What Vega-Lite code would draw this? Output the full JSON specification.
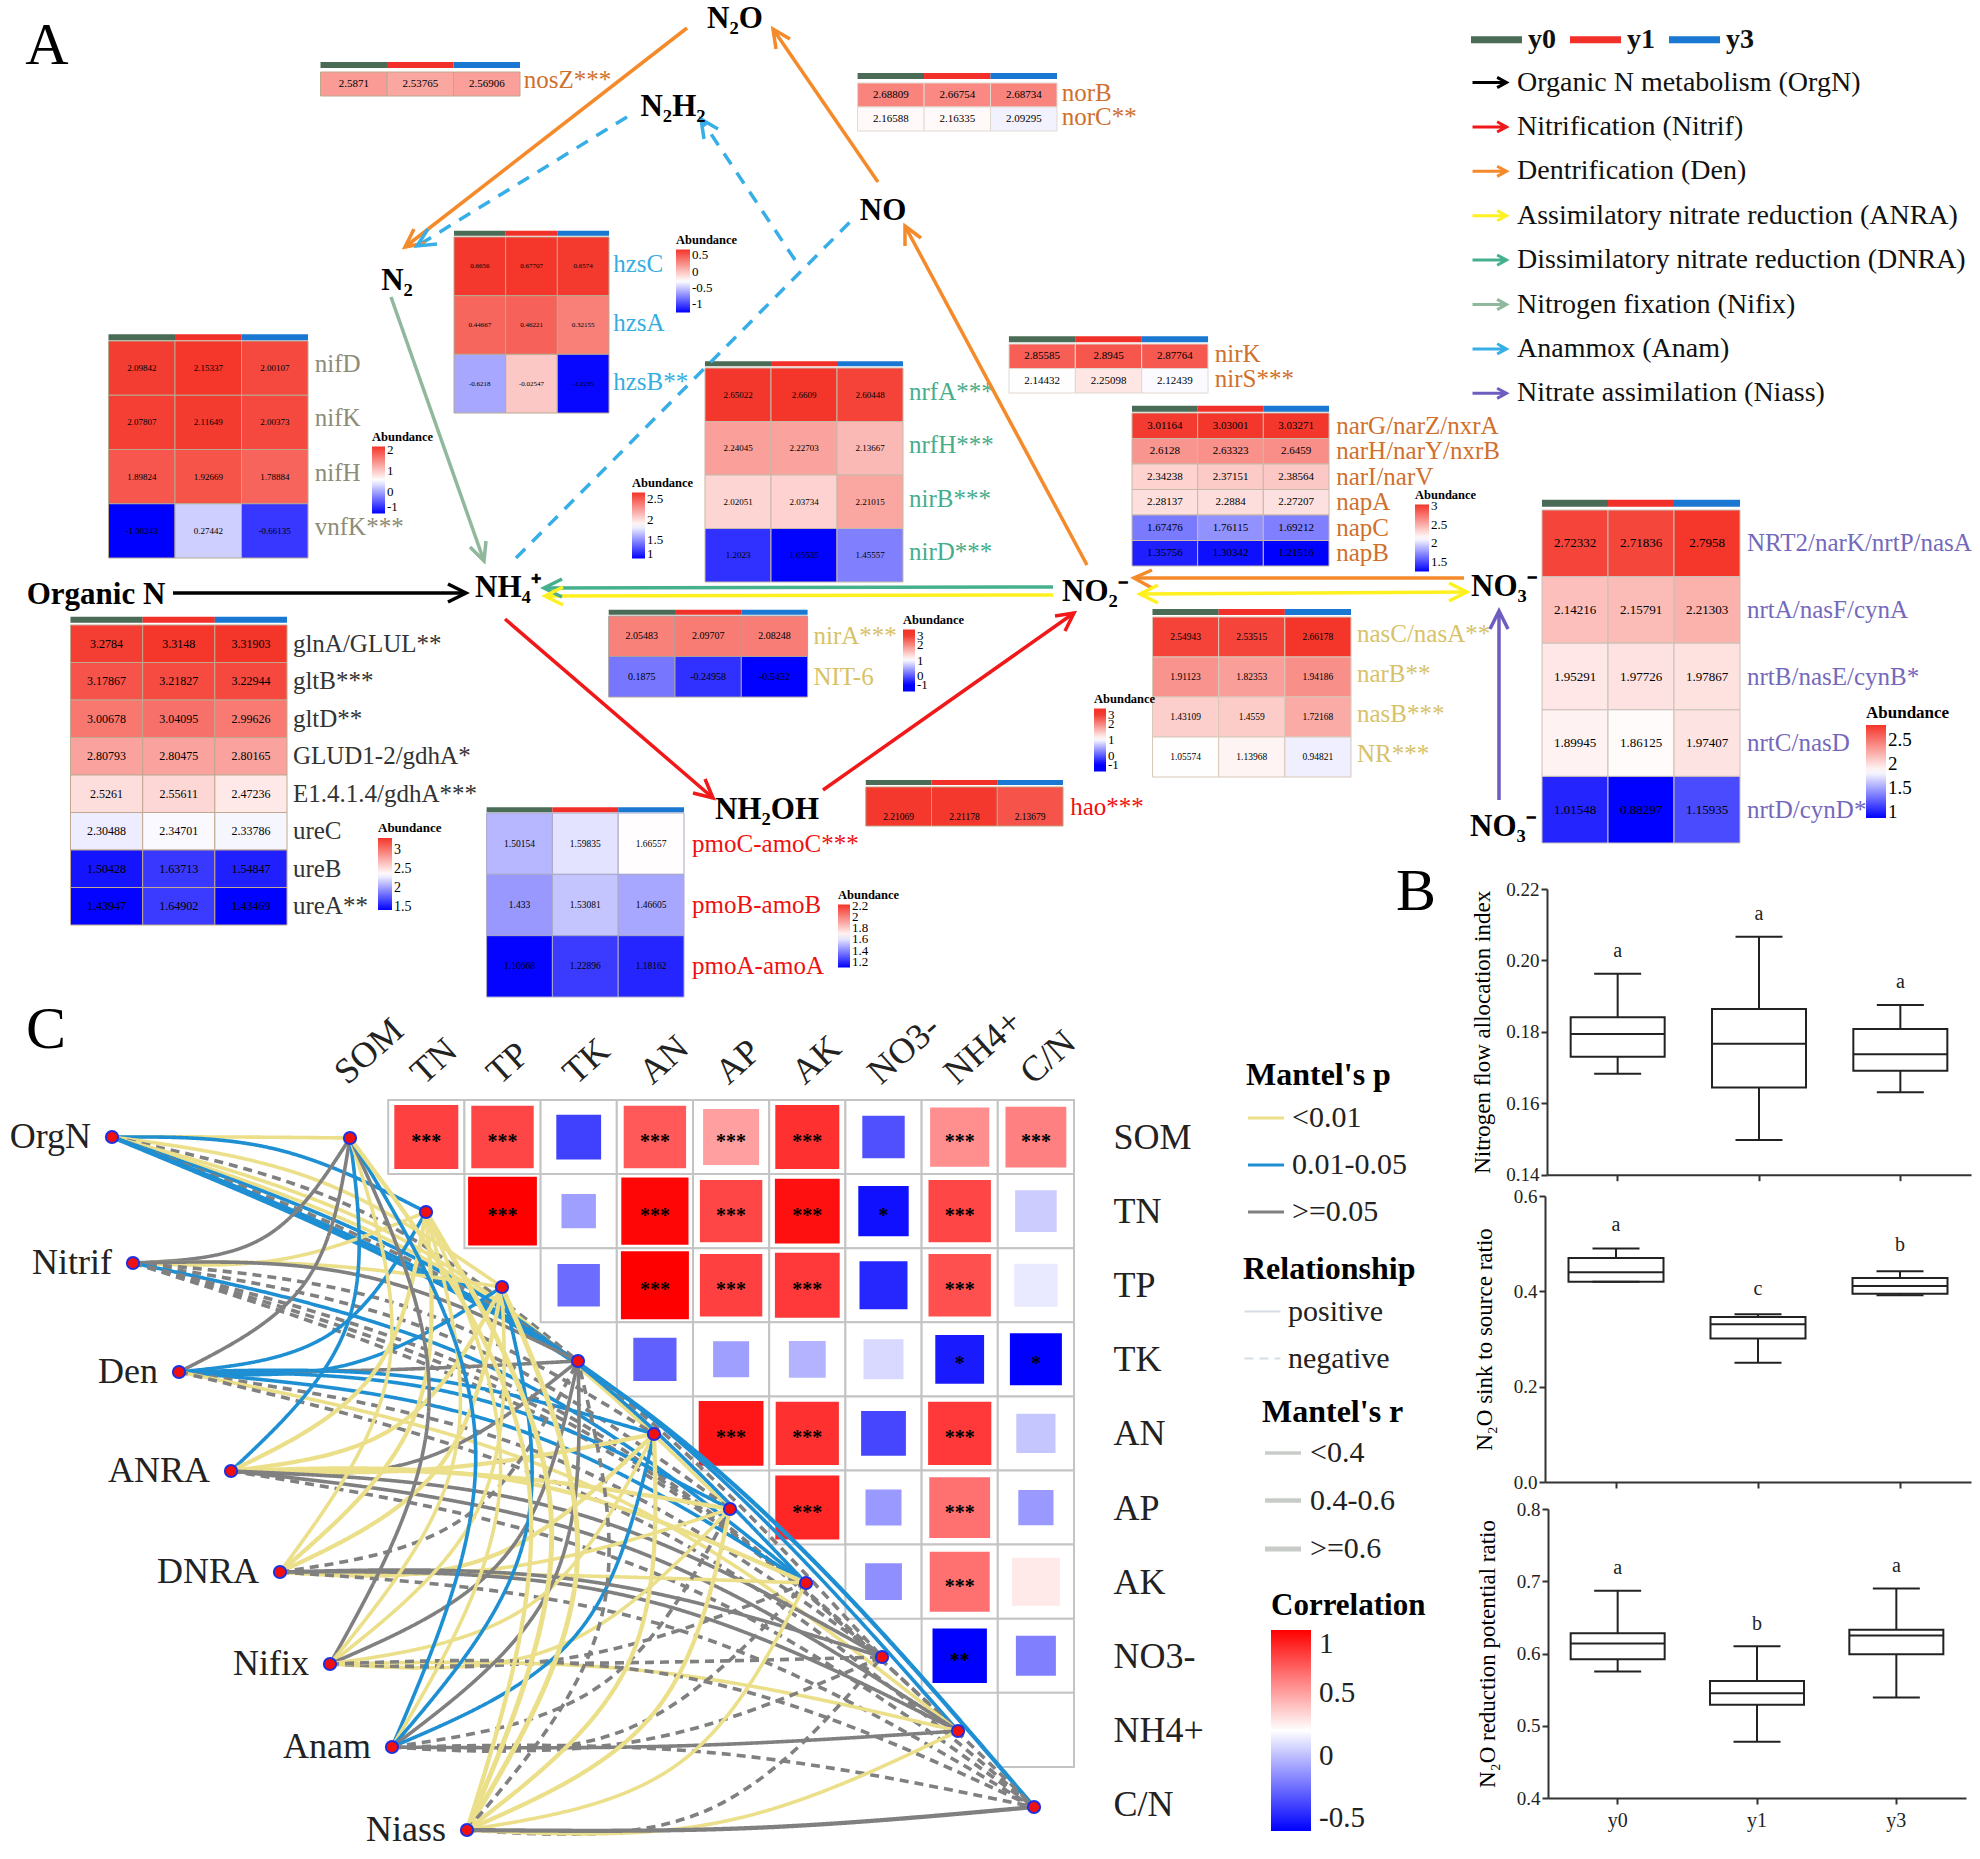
{"$schema":"https://vega.github.io/schema/vega-lite/v6.json","width":1980,"height":1859,"padding":0,"autosize":"none","background":"white",
"config":{"font":"Liberation Serif","view":{"stroke":null}},
"resolve":{"scale":{"x":"independent","y":"independent","color":"independent","size":"independent"},"axis":{"x":"independent","y":"independent"}},
"datasets":{
"edges":[
{"edge":"OrgN-SOM","p":"<0.01","rel":"positive","r":"<0.4"},{"edge":"OrgN-TN","p":"0.01-0.05","rel":"positive","r":"<0.4"},{"edge":"OrgN-TP","p":"<0.01","rel":"positive","r":"<0.4"},{"edge":"OrgN-TK","p":">=0.05","rel":"negative","r":"<0.4"},{"edge":"OrgN-AN","p":"<0.01","rel":"positive","r":"<0.4"},{"edge":"OrgN-AP","p":"<0.01","rel":"positive","r":"<0.4"},{"edge":"OrgN-AK","p":"0.01-0.05","rel":"positive","r":"<0.4"},{"edge":"OrgN-NO3","p":">=0.05","rel":"negative","r":"<0.4"},{"edge":"OrgN-NH4","p":"0.01-0.05","rel":"positive","r":"<0.4"},{"edge":"OrgN-CN","p":"0.01-0.05","rel":"positive","r":"0.4-0.6"},
{"edge":"Nitrif-SOM","p":">=0.05","rel":"positive","r":"<0.4"},{"edge":"Nitrif-TN","p":"<0.01","rel":"positive","r":"<0.4"},{"edge":"Nitrif-TP","p":"<0.01","rel":"positive","r":"<0.4"},{"edge":"Nitrif-TK","p":">=0.05","rel":"positive","r":"<0.4"},{"edge":"Nitrif-AN","p":">=0.05","rel":"negative","r":"<0.4"},{"edge":"Nitrif-AP","p":">=0.05","rel":"negative","r":"<0.4"},{"edge":"Nitrif-AK","p":"0.01-0.05","rel":"positive","r":"<0.4"},{"edge":"Nitrif-NO3","p":">=0.05","rel":"negative","r":"<0.4"},{"edge":"Nitrif-NH4","p":">=0.05","rel":"negative","r":"<0.4"},{"edge":"Nitrif-CN","p":">=0.05","rel":"negative","r":"<0.4"},
{"edge":"Den-SOM","p":">=0.05","rel":"positive","r":"<0.4"},{"edge":"Den-TN","p":"0.01-0.05","rel":"positive","r":"<0.4"},{"edge":"Den-TP","p":"0.01-0.05","rel":"positive","r":"<0.4"},{"edge":"Den-TK","p":">=0.05","rel":"positive","r":"<0.4"},{"edge":"Den-AN","p":"0.01-0.05","rel":"positive","r":"<0.4"},{"edge":"Den-AP","p":"0.01-0.05","rel":"positive","r":"<0.4"},{"edge":"Den-AK","p":"0.01-0.05","rel":"positive","r":"<0.4"},{"edge":"Den-NO3","p":">=0.05","rel":"negative","r":"<0.4"},{"edge":"Den-NH4","p":"<0.01","rel":"positive","r":"<0.4"},{"edge":"Den-CN","p":">=0.05","rel":"negative","r":"<0.4"},
{"edge":"ANRA-SOM","p":"0.01-0.05","rel":"positive","r":"<0.4"},{"edge":"ANRA-TN","p":"<0.01","rel":"positive","r":"0.4-0.6"},{"edge":"ANRA-TP","p":"<0.01","rel":"positive","r":"0.4-0.6"},{"edge":"ANRA-TK","p":">=0.05","rel":"positive","r":"<0.4"},{"edge":"ANRA-AN","p":"<0.01","rel":"positive","r":"0.4-0.6"},{"edge":"ANRA-AP","p":"<0.01","rel":"positive","r":"0.4-0.6"},{"edge":"ANRA-AK","p":"<0.01","rel":"positive","r":"0.4-0.6"},{"edge":"ANRA-NO3","p":">=0.05","rel":"positive","r":"<0.4"},{"edge":"ANRA-NH4","p":">=0.05","rel":"positive","r":"<0.4"},{"edge":"ANRA-CN","p":">=0.05","rel":"negative","r":"<0.4"},
{"edge":"DNRA-SOM","p":"<0.01","rel":"positive","r":"<0.4"},{"edge":"DNRA-TN","p":"<0.01","rel":"positive","r":"0.4-0.6"},{"edge":"DNRA-TP","p":"<0.01","rel":"positive","r":"0.4-0.6"},{"edge":"DNRA-TK","p":">=0.05","rel":"negative","r":"<0.4"},{"edge":"DNRA-AN","p":"<0.01","rel":"positive","r":"0.4-0.6"},{"edge":"DNRA-AP","p":"<0.01","rel":"positive","r":"<0.4"},{"edge":"DNRA-AK","p":"<0.01","rel":"positive","r":"<0.4"},{"edge":"DNRA-NO3","p":">=0.05","rel":"positive","r":"<0.4"},{"edge":"DNRA-NH4","p":">=0.05","rel":"positive","r":"<0.4"},{"edge":"DNRA-CN","p":">=0.05","rel":"negative","r":"<0.4"},
{"edge":"Nifix-SOM","p":">=0.05","rel":"positive","r":"<0.4"},{"edge":"Nifix-TN","p":"<0.01","rel":"positive","r":"<0.4"},{"edge":"Nifix-TP","p":"<0.01","rel":"positive","r":"<0.4"},{"edge":"Nifix-TK","p":">=0.05","rel":"positive","r":"<0.4"},{"edge":"Nifix-AN","p":"<0.01","rel":"positive","r":"<0.4"},{"edge":"Nifix-AP","p":"<0.01","rel":"positive","r":"<0.4"},{"edge":"Nifix-AK","p":">=0.05","rel":"negative","r":"<0.4"},{"edge":"Nifix-NO3","p":">=0.05","rel":"negative","r":"<0.4"},{"edge":"Nifix-NH4","p":"<0.01","rel":"positive","r":"<0.4"},{"edge":"Nifix-CN","p":">=0.05","rel":"negative","r":"<0.4"},
{"edge":"Anam-SOM","p":"0.01-0.05","rel":"positive","r":"<0.4"},{"edge":"Anam-TN","p":"<0.01","rel":"positive","r":"<0.4"},{"edge":"Anam-TP","p":"0.01-0.05","rel":"positive","r":"<0.4"},{"edge":"Anam-TK","p":">=0.05","rel":"positive","r":"<0.4"},{"edge":"Anam-AN","p":"0.01-0.05","rel":"positive","r":"<0.4"},{"edge":"Anam-AP","p":">=0.05","rel":"negative","r":"<0.4"},{"edge":"Anam-AK","p":">=0.05","rel":"negative","r":"<0.4"},{"edge":"Anam-NO3","p":">=0.05","rel":"negative","r":"<0.4"},{"edge":"Anam-NH4","p":">=0.05","rel":"positive","r":"<0.4"},{"edge":"Anam-CN","p":">=0.05","rel":"negative","r":"<0.4"},
{"edge":"Niass-SOM","p":"<0.01","rel":"positive","r":"0.4-0.6"},{"edge":"Niass-TN","p":"<0.01","rel":"positive","r":">=0.6"},{"edge":"Niass-TP","p":"<0.01","rel":"positive","r":">=0.6"},{"edge":"Niass-TK","p":">=0.05","rel":"negative","r":"<0.4"},{"edge":"Niass-AN","p":"<0.01","rel":"positive","r":"0.4-0.6"},{"edge":"Niass-AP","p":"<0.01","rel":"positive","r":"0.4-0.6"},{"edge":"Niass-AK","p":"<0.01","rel":"positive","r":"<0.4"},{"edge":"Niass-NO3","p":">=0.05","rel":"negative","r":"<0.4"},{"edge":"Niass-NH4","p":"<0.01","rel":"positive","r":"<0.4"},{"edge":"Niass-CN","p":">=0.05","rel":"positive","r":"0.4-0.6"}
],
"edgePath":[
{"edge":"OrgN-SOM","t":0,"px":112,"py":1137},{"edge":"OrgN-SOM","t":1,"px":231,"py":1137},{"edge":"OrgN-SOM","t":2,"px":350,"py":1138},
{"edge":"OrgN-TN","t":0,"px":112,"py":1137},{"edge":"OrgN-TN","t":1,"px":275,"py":1149},{"edge":"OrgN-TN","t":2,"px":426,"py":1212},
{"edge":"OrgN-TP","t":0,"px":112,"py":1137},{"edge":"OrgN-TP","t":1,"px":319,"py":1181},{"edge":"OrgN-TP","t":2,"px":502,"py":1287},
{"edge":"OrgN-TK","t":0,"px":112,"py":1137},{"edge":"OrgN-TK","t":1,"px":363,"py":1212},{"edge":"OrgN-TK","t":2,"px":578,"py":1361},
{"edge":"OrgN-AN","t":0,"px":112,"py":1137},{"edge":"OrgN-AN","t":1,"px":407,"py":1242},{"edge":"OrgN-AN","t":2,"px":654,"py":1434},
{"edge":"OrgN-AP","t":0,"px":112,"py":1137},{"edge":"OrgN-AP","t":1,"px":451,"py":1274},{"edge":"OrgN-AP","t":2,"px":730,"py":1509},
{"edge":"OrgN-AK","t":0,"px":112,"py":1137},{"edge":"OrgN-AK","t":1,"px":495,"py":1304},{"edge":"OrgN-AK","t":2,"px":806,"py":1583},
{"edge":"OrgN-NO3","t":0,"px":112,"py":1137},{"edge":"OrgN-NO3","t":1,"px":539,"py":1335},{"edge":"OrgN-NO3","t":2,"px":882,"py":1657},
{"edge":"OrgN-NH4","t":0,"px":112,"py":1137},{"edge":"OrgN-NH4","t":1,"px":583,"py":1366},{"edge":"OrgN-NH4","t":2,"px":958,"py":1731},
{"edge":"OrgN-CN","t":0,"px":112,"py":1137},{"edge":"OrgN-CN","t":1,"px":627,"py":1398},{"edge":"OrgN-CN","t":2,"px":1034,"py":1807},
{"edge":"Nitrif-SOM","t":0,"px":133,"py":1263},{"edge":"Nitrif-SOM","t":1,"px":263,"py":1238},{"edge":"Nitrif-SOM","t":2,"px":350,"py":1138},
{"edge":"Nitrif-TN","t":0,"px":133,"py":1263},{"edge":"Nitrif-TN","t":1,"px":283,"py":1259},{"edge":"Nitrif-TN","t":2,"px":426,"py":1212},
{"edge":"Nitrif-TP","t":0,"px":133,"py":1263},{"edge":"Nitrif-TP","t":1,"px":318,"py":1265},{"edge":"Nitrif-TP","t":2,"px":502,"py":1287},
{"edge":"Nitrif-TK","t":0,"px":133,"py":1263},{"edge":"Nitrif-TK","t":1,"px":363,"py":1276},{"edge":"Nitrif-TK","t":2,"px":578,"py":1361},
{"edge":"Nitrif-AN","t":0,"px":133,"py":1263},{"edge":"Nitrif-AN","t":1,"px":407,"py":1307},{"edge":"Nitrif-AN","t":2,"px":654,"py":1434},
{"edge":"Nitrif-AP","t":0,"px":133,"py":1263},{"edge":"Nitrif-AP","t":1,"px":451,"py":1338},{"edge":"Nitrif-AP","t":2,"px":730,"py":1509},
{"edge":"Nitrif-AK","t":0,"px":133,"py":1263},{"edge":"Nitrif-AK","t":1,"px":495,"py":1369},{"edge":"Nitrif-AK","t":2,"px":806,"py":1583},
{"edge":"Nitrif-NO3","t":0,"px":133,"py":1263},{"edge":"Nitrif-NO3","t":1,"px":539,"py":1400},{"edge":"Nitrif-NO3","t":2,"px":882,"py":1657},
{"edge":"Nitrif-NH4","t":0,"px":133,"py":1263},{"edge":"Nitrif-NH4","t":1,"px":583,"py":1431},{"edge":"Nitrif-NH4","t":2,"px":958,"py":1731},
{"edge":"Nitrif-CN","t":0,"px":133,"py":1263},{"edge":"Nitrif-CN","t":1,"px":627,"py":1463},{"edge":"Nitrif-CN","t":2,"px":1034,"py":1807},
{"edge":"Den-SOM","t":0,"px":179,"py":1372},{"edge":"Den-SOM","t":1,"px":304,"py":1284},{"edge":"Den-SOM","t":2,"px":350,"py":1138},
{"edge":"Den-TN","t":0,"px":179,"py":1372},{"edge":"Den-TN","t":1,"px":330,"py":1334},{"edge":"Den-TN","t":2,"px":426,"py":1212},
{"edge":"Den-TP","t":0,"px":179,"py":1372},{"edge":"Den-TP","t":1,"px":350,"py":1364},{"edge":"Den-TP","t":2,"px":502,"py":1287},
{"edge":"Den-TK","t":0,"px":179,"py":1372},{"edge":"Den-TK","t":1,"px":378,"py":1370},{"edge":"Den-TK","t":2,"px":578,"py":1361},
{"edge":"Den-AN","t":0,"px":179,"py":1372},{"edge":"Den-AN","t":1,"px":420,"py":1378},{"edge":"Den-AN","t":2,"px":654,"py":1434},
{"edge":"Den-AP","t":0,"px":179,"py":1372},{"edge":"Den-AP","t":1,"px":466,"py":1396},{"edge":"Den-AP","t":2,"px":730,"py":1509},
{"edge":"Den-AK","t":0,"px":179,"py":1372},{"edge":"Den-AK","t":1,"px":510,"py":1427},{"edge":"Den-AK","t":2,"px":806,"py":1583},
{"edge":"Den-NO3","t":0,"px":179,"py":1372},{"edge":"Den-NO3","t":1,"px":553,"py":1458},{"edge":"Den-NO3","t":2,"px":882,"py":1657},
{"edge":"Den-NH4","t":0,"px":179,"py":1372},{"edge":"Den-NH4","t":1,"px":597,"py":1489},{"edge":"Den-NH4","t":2,"px":958,"py":1731},
{"edge":"Den-CN","t":0,"px":179,"py":1372},{"edge":"Den-CN","t":1,"px":641,"py":1521},{"edge":"Den-CN","t":2,"px":1034,"py":1807},
{"edge":"ANRA-SOM","t":0,"px":231,"py":1471},{"edge":"ANRA-SOM","t":1,"px":347,"py":1325},{"edge":"ANRA-SOM","t":2,"px":350,"py":1138},
{"edge":"ANRA-TN","t":0,"px":231,"py":1471},{"edge":"ANRA-TN","t":1,"px":372,"py":1375},{"edge":"ANRA-TN","t":2,"px":426,"py":1212},
{"edge":"ANRA-TP","t":0,"px":231,"py":1471},{"edge":"ANRA-TP","t":1,"px":398,"py":1425},{"edge":"ANRA-TP","t":2,"px":502,"py":1287},
{"edge":"ANRA-TK","t":0,"px":231,"py":1471},{"edge":"ANRA-TK","t":1,"px":419,"py":1460},{"edge":"ANRA-TK","t":2,"px":578,"py":1361},
{"edge":"ANRA-AN","t":0,"px":231,"py":1471},{"edge":"ANRA-AN","t":1,"px":444,"py":1468},{"edge":"ANRA-AN","t":2,"px":654,"py":1434},
{"edge":"ANRA-AP","t":0,"px":231,"py":1471},{"edge":"ANRA-AP","t":1,"px":482,"py":1475},{"edge":"ANRA-AP","t":2,"px":730,"py":1509},
{"edge":"ANRA-AK","t":0,"px":231,"py":1471},{"edge":"ANRA-AK","t":1,"px":527,"py":1483},{"edge":"ANRA-AK","t":2,"px":806,"py":1583},
{"edge":"ANRA-NO3","t":0,"px":231,"py":1471},{"edge":"ANRA-NO3","t":1,"px":571,"py":1512},{"edge":"ANRA-NO3","t":2,"px":882,"py":1657},
{"edge":"ANRA-NH4","t":0,"px":231,"py":1471},{"edge":"ANRA-NH4","t":1,"px":615,"py":1543},{"edge":"ANRA-NH4","t":2,"px":958,"py":1731},
{"edge":"ANRA-CN","t":0,"px":231,"py":1471},{"edge":"ANRA-CN","t":1,"px":659,"py":1575},{"edge":"ANRA-CN","t":2,"px":1034,"py":1807},
{"edge":"DNRA-SOM","t":0,"px":280,"py":1572},{"edge":"DNRA-SOM","t":1,"px":389,"py":1367},{"edge":"DNRA-SOM","t":2,"px":350,"py":1138},
{"edge":"DNRA-TN","t":0,"px":280,"py":1572},{"edge":"DNRA-TN","t":1,"px":414,"py":1417},{"edge":"DNRA-TN","t":2,"px":426,"py":1212},
{"edge":"DNRA-TP","t":0,"px":280,"py":1572},{"edge":"DNRA-TP","t":1,"px":439,"py":1467},{"edge":"DNRA-TP","t":2,"px":502,"py":1287},
{"edge":"DNRA-TK","t":0,"px":280,"py":1572},{"edge":"DNRA-TK","t":1,"px":465,"py":1517},{"edge":"DNRA-TK","t":2,"px":578,"py":1361},
{"edge":"DNRA-AN","t":0,"px":280,"py":1572},{"edge":"DNRA-AN","t":1,"px":487,"py":1558},{"edge":"DNRA-AN","t":2,"px":654,"py":1434},
{"edge":"DNRA-AP","t":0,"px":280,"py":1572},{"edge":"DNRA-AP","t":1,"px":509,"py":1567},{"edge":"DNRA-AP","t":2,"px":730,"py":1509},
{"edge":"DNRA-AK","t":0,"px":280,"py":1572},{"edge":"DNRA-AK","t":1,"px":543,"py":1575},{"edge":"DNRA-AK","t":2,"px":806,"py":1583},
{"edge":"DNRA-NO3","t":0,"px":280,"py":1572},{"edge":"DNRA-NO3","t":1,"px":586,"py":1581},{"edge":"DNRA-NO3","t":2,"px":882,"py":1657},
{"edge":"DNRA-NH4","t":0,"px":280,"py":1572},{"edge":"DNRA-NH4","t":1,"px":632,"py":1597},{"edge":"DNRA-NH4","t":2,"px":958,"py":1731},
{"edge":"DNRA-CN","t":0,"px":280,"py":1572},{"edge":"DNRA-CN","t":1,"px":676,"py":1629},{"edge":"DNRA-CN","t":2,"px":1034,"py":1807},
{"edge":"Nifix-SOM","t":0,"px":330,"py":1664},{"edge":"Nifix-SOM","t":1,"px":429,"py":1404},{"edge":"Nifix-SOM","t":2,"px":350,"py":1138},
{"edge":"Nifix-TN","t":0,"px":330,"py":1664},{"edge":"Nifix-TN","t":1,"px":455,"py":1454},{"edge":"Nifix-TN","t":2,"px":426,"py":1212},
{"edge":"Nifix-TP","t":0,"px":330,"py":1664},{"edge":"Nifix-TP","t":1,"px":480,"py":1505},{"edge":"Nifix-TP","t":2,"px":502,"py":1287},
{"edge":"Nifix-TK","t":0,"px":330,"py":1664},{"edge":"Nifix-TK","t":1,"px":506,"py":1555},{"edge":"Nifix-TK","t":2,"px":578,"py":1361},
{"edge":"Nifix-AN","t":0,"px":330,"py":1664},{"edge":"Nifix-AN","t":1,"px":531,"py":1604},{"edge":"Nifix-AN","t":2,"px":654,"py":1434},
{"edge":"Nifix-AP","t":0,"px":330,"py":1664},{"edge":"Nifix-AP","t":1,"px":554,"py":1648},{"edge":"Nifix-AP","t":2,"px":730,"py":1509},
{"edge":"Nifix-AK","t":0,"px":330,"py":1664},{"edge":"Nifix-AK","t":1,"px":574,"py":1657},{"edge":"Nifix-AK","t":2,"px":806,"py":1583},
{"edge":"Nifix-NO3","t":0,"px":330,"py":1664},{"edge":"Nifix-NO3","t":1,"px":606,"py":1663},{"edge":"Nifix-NO3","t":2,"px":882,"py":1657},
{"edge":"Nifix-NH4","t":0,"px":330,"py":1664},{"edge":"Nifix-NH4","t":1,"px":647,"py":1671},{"edge":"Nifix-NH4","t":2,"px":958,"py":1731},
{"edge":"Nifix-CN","t":0,"px":330,"py":1664},{"edge":"Nifix-CN","t":1,"px":693,"py":1679},{"edge":"Nifix-CN","t":2,"px":1034,"py":1807},
{"edge":"Anam-SOM","t":0,"px":392,"py":1747},{"edge":"Anam-SOM","t":1,"px":475,"py":1435},{"edge":"Anam-SOM","t":2,"px":350,"py":1138},
{"edge":"Anam-TN","t":0,"px":392,"py":1747},{"edge":"Anam-TN","t":1,"px":500,"py":1485},{"edge":"Anam-TN","t":2,"px":426,"py":1212},
{"edge":"Anam-TP","t":0,"px":392,"py":1747},{"edge":"Anam-TP","t":1,"px":525,"py":1536},{"edge":"Anam-TP","t":2,"px":502,"py":1287},
{"edge":"Anam-TK","t":0,"px":392,"py":1747},{"edge":"Anam-TK","t":1,"px":551,"py":1586},{"edge":"Anam-TK","t":2,"px":578,"py":1361},
{"edge":"Anam-AN","t":0,"px":392,"py":1747},{"edge":"Anam-AN","t":1,"px":576,"py":1635},{"edge":"Anam-AN","t":2,"px":654,"py":1434},
{"edge":"Anam-AP","t":0,"px":392,"py":1747},{"edge":"Anam-AP","t":1,"px":601,"py":1685},{"edge":"Anam-AP","t":2,"px":730,"py":1509},
{"edge":"Anam-AK","t":0,"px":392,"py":1747},{"edge":"Anam-AK","t":1,"px":625,"py":1730},{"edge":"Anam-AK","t":2,"px":806,"py":1583},
{"edge":"Anam-NO3","t":0,"px":392,"py":1747},{"edge":"Anam-NO3","t":1,"px":644,"py":1740},{"edge":"Anam-NO3","t":2,"px":882,"py":1657},
{"edge":"Anam-NH4","t":0,"px":392,"py":1747},{"edge":"Anam-NH4","t":1,"px":675,"py":1746},{"edge":"Anam-NH4","t":2,"px":958,"py":1731},
{"edge":"Anam-CN","t":0,"px":392,"py":1747},{"edge":"Anam-CN","t":1,"px":715,"py":1753},{"edge":"Anam-CN","t":2,"px":1034,"py":1807},
{"edge":"Niass-SOM","t":0,"px":467,"py":1830},{"edge":"Niass-SOM","t":1,"px":526,"py":1464},{"edge":"Niass-SOM","t":2,"px":350,"py":1138},
{"edge":"Niass-TN","t":0,"px":467,"py":1830},{"edge":"Niass-TN","t":1,"px":551,"py":1514},{"edge":"Niass-TN","t":2,"px":426,"py":1212},
{"edge":"Niass-TP","t":0,"px":467,"py":1830},{"edge":"Niass-TP","t":1,"px":577,"py":1565},{"edge":"Niass-TP","t":2,"px":502,"py":1287},
{"edge":"Niass-TK","t":0,"px":467,"py":1830},{"edge":"Niass-TK","t":1,"px":602,"py":1615},{"edge":"Niass-TK","t":2,"px":578,"py":1361},
{"edge":"Niass-AN","t":0,"px":467,"py":1830},{"edge":"Niass-AN","t":1,"px":628,"py":1664},{"edge":"Niass-AN","t":2,"px":654,"py":1434},
{"edge":"Niass-AP","t":0,"px":467,"py":1830},{"edge":"Niass-AP","t":1,"px":653,"py":1714},{"edge":"Niass-AP","t":2,"px":730,"py":1509},
{"edge":"Niass-AK","t":0,"px":467,"py":1830},{"edge":"Niass-AK","t":1,"px":678,"py":1764},{"edge":"Niass-AK","t":2,"px":806,"py":1583},
{"edge":"Niass-NO3","t":0,"px":467,"py":1830},{"edge":"Niass-NO3","t":1,"px":703,"py":1812},{"edge":"Niass-NO3","t":2,"px":882,"py":1657},
{"edge":"Niass-NH4","t":0,"px":467,"py":1830},{"edge":"Niass-NH4","t":1,"px":721,"py":1822},{"edge":"Niass-NH4","t":2,"px":958,"py":1731},
{"edge":"Niass-CN","t":0,"px":467,"py":1830},{"edge":"Niass-CN","t":1,"px":751,"py":1828},{"edge":"Niass-CN","t":2,"px":1034,"py":1807}
],
"nodes":[
{"node":"OrgN","kind":"function","px":112,"py":1137},{"node":"Nitrif","kind":"function","px":133,"py":1263},{"node":"Den","kind":"function","px":179,"py":1372},{"node":"ANRA","kind":"function","px":231,"py":1471},{"node":"DNRA","kind":"function","px":280,"py":1572},{"node":"Nifix","kind":"function","px":330,"py":1664},{"node":"Anam","kind":"function","px":392,"py":1747},{"node":"Niass","kind":"function","px":467,"py":1830},
{"node":"SOM","kind":"env","px":350,"py":1138},{"node":"TN","kind":"env","px":426,"py":1212},{"node":"TP","kind":"env","px":502,"py":1287},{"node":"TK","kind":"env","px":578,"py":1361},{"node":"AN","kind":"env","px":654,"py":1434},{"node":"AP","kind":"env","px":730,"py":1509},{"node":"AK","kind":"env","px":806,"py":1583},{"node":"NO3-","kind":"env","px":882,"py":1657},{"node":"NH4+","kind":"env","px":958,"py":1731},{"node":"C/N","kind":"env","px":1034,"py":1807}
],
"arrows":[
{"arrow":"a1","pathway":"Dentrification (Den)","t":0,"px":687,"py":28},{"arrow":"a1","pathway":"Dentrification (Den)","t":1,"px":405,"py":247},
{"arrow":"a3","pathway":"Nitrogen fixation (Nifix)","t":0,"px":391,"py":297},{"arrow":"a3","pathway":"Nitrogen fixation (Nifix)","t":1,"px":484,"py":561},
{"arrow":"a5","pathway":"Dentrification (Den)","t":0,"px":878,"py":182},{"arrow":"a5","pathway":"Dentrification (Den)","t":1,"px":773,"py":29},
{"arrow":"a6","pathway":"Dentrification (Den)","t":0,"px":1087,"py":565},{"arrow":"a6","pathway":"Dentrification (Den)","t":1,"px":905,"py":226},
{"arrow":"a7","pathway":"Organic N metabolism (OrgN)","t":0,"px":173,"py":593},{"arrow":"a7","pathway":"Organic N metabolism (OrgN)","t":1,"px":465,"py":593},
{"arrow":"a8","pathway":"Dissimilatory nitrate reduction (DNRA)","t":0,"px":1053,"py":587},{"arrow":"a8","pathway":"Dissimilatory nitrate reduction (DNRA)","t":1,"px":544,"py":588},
{"arrow":"a9","pathway":"Assimilatory nitrate reduction (ANRA)","t":0,"px":1053,"py":595},{"arrow":"a9","pathway":"Assimilatory nitrate reduction (ANRA)","t":1,"px":545,"py":596},
{"arrow":"a10","pathway":"Dentrification (Den)","t":0,"px":1464,"py":578},{"arrow":"a10","pathway":"Dentrification (Den)","t":1,"px":1134,"py":578},
{"arrow":"a11","pathway":"Assimilatory nitrate reduction (ANRA)","t":0,"px":1140,"py":594},{"arrow":"a11","pathway":"Assimilatory nitrate reduction (ANRA)","t":1,"px":1467,"py":592},
{"arrow":"a12","pathway":"Nitrification (Nitrif)","t":0,"px":505,"py":619},{"arrow":"a12","pathway":"Nitrification (Nitrif)","t":1,"px":713,"py":798},
{"arrow":"a13","pathway":"Nitrification (Nitrif)","t":0,"px":823,"py":790},{"arrow":"a13","pathway":"Nitrification (Nitrif)","t":1,"px":1074,"py":613},
{"arrow":"a14","pathway":"Nitrate assimilation (Niass)","t":0,"px":1499,"py":800},{"arrow":"a14","pathway":"Nitrate assimilation (Niass)","t":1,"px":1499,"py":611}
],
"dashedArrows":[
{"arrow":"d2","pathway":"Anammox (Anam)","t":0,"px":627,"py":117},{"arrow":"d2","pathway":"Anammox (Anam)","t":1,"px":417,"py":246},
{"arrow":"d4","pathway":"Anammox (Anam)","t":0,"px":516,"py":558},{"arrow":"d4","pathway":"Anammox (Anam)","t":1,"px":855,"py":217},
{"arrow":"d5","pathway":"Anammox (Anam)","t":0,"px":795,"py":260},{"arrow":"d5","pathway":"Anammox (Anam)","t":1,"px":701,"py":119}
],
"heads":[
{"arrow":"a1","pathway":"Dentrification (Den)","t":0,"px":425,"py":243},{"arrow":"a1","pathway":"Dentrification (Den)","t":1,"px":405,"py":247},{"arrow":"a1","pathway":"Dentrification (Den)","t":2,"px":414,"py":229},
{"arrow":"d2","pathway":"Anammox (Anam)","t":0,"px":437,"py":244},{"arrow":"d2","pathway":"Anammox (Anam)","t":1,"px":417,"py":246},{"arrow":"d2","pathway":"Anammox (Anam)","t":2,"px":428,"py":229},
{"arrow":"a3","pathway":"Nitrogen fixation (Nifix)","t":0,"px":486,"py":541},{"arrow":"a3","pathway":"Nitrogen fixation (Nifix)","t":1,"px":484,"py":561},{"arrow":"a3","pathway":"Nitrogen fixation (Nifix)","t":2,"px":470,"py":547},
{"arrow":"d5","pathway":"Anammox (Anam)","t":0,"px":718,"py":129},{"arrow":"d5","pathway":"Anammox (Anam)","t":1,"px":701,"py":119},{"arrow":"d5","pathway":"Anammox (Anam)","t":2,"px":704,"py":139},
{"arrow":"a5","pathway":"Dentrification (Den)","t":0,"px":790,"py":39},{"arrow":"a5","pathway":"Dentrification (Den)","t":1,"px":773,"py":29},{"arrow":"a5","pathway":"Dentrification (Den)","t":2,"px":776,"py":49},
{"arrow":"a6","pathway":"Dentrification (Den)","t":0,"px":921,"py":238},{"arrow":"a6","pathway":"Dentrification (Den)","t":1,"px":905,"py":226},{"arrow":"a6","pathway":"Dentrification (Den)","t":2,"px":905,"py":246},
{"arrow":"a7","pathway":"Organic N metabolism (OrgN)","t":0,"px":448,"py":584},{"arrow":"a7","pathway":"Organic N metabolism (OrgN)","t":1,"px":466,"py":593},{"arrow":"a7","pathway":"Organic N metabolism (OrgN)","t":2,"px":448,"py":602},
{"arrow":"a8","pathway":"Dissimilatory nitrate reduction (DNRA)","t":0,"px":562,"py":579},{"arrow":"a8","pathway":"Dissimilatory nitrate reduction (DNRA)","t":1,"px":544,"py":588},{"arrow":"a8","pathway":"Dissimilatory nitrate reduction (DNRA)","t":2,"px":562,"py":597},
{"arrow":"a9","pathway":"Assimilatory nitrate reduction (ANRA)","t":0,"px":563,"py":587},{"arrow":"a9","pathway":"Assimilatory nitrate reduction (ANRA)","t":1,"px":545,"py":596},{"arrow":"a9","pathway":"Assimilatory nitrate reduction (ANRA)","t":2,"px":563,"py":605},
{"arrow":"a10","pathway":"Dentrification (Den)","t":0,"px":1152,"py":570},{"arrow":"a10","pathway":"Dentrification (Den)","t":1,"px":1134,"py":578},{"arrow":"a10","pathway":"Dentrification (Den)","t":2,"px":1152,"py":588},
{"arrow":"a11l","pathway":"Assimilatory nitrate reduction (ANRA)","t":0,"px":1158,"py":585},{"arrow":"a11l","pathway":"Assimilatory nitrate reduction (ANRA)","t":1,"px":1140,"py":594},{"arrow":"a11l","pathway":"Assimilatory nitrate reduction (ANRA)","t":2,"px":1158,"py":603},
{"arrow":"a11r","pathway":"Assimilatory nitrate reduction (ANRA)","t":0,"px":1449,"py":583},{"arrow":"a11r","pathway":"Assimilatory nitrate reduction (ANRA)","t":1,"px":1467,"py":592},{"arrow":"a11r","pathway":"Assimilatory nitrate reduction (ANRA)","t":2,"px":1449,"py":601},
{"arrow":"a12","pathway":"Nitrification (Nitrif)","t":0,"px":705,"py":779},{"arrow":"a12","pathway":"Nitrification (Nitrif)","t":1,"px":713,"py":798},{"arrow":"a12","pathway":"Nitrification (Nitrif)","t":2,"px":693,"py":793},
{"arrow":"a13","pathway":"Nitrification (Nitrif)","t":0,"px":1065,"py":631},{"arrow":"a13","pathway":"Nitrification (Nitrif)","t":1,"px":1074,"py":613},{"arrow":"a13","pathway":"Nitrification (Nitrif)","t":2,"px":1055,"py":616},
{"arrow":"a14","pathway":"Nitrate assimilation (Niass)","t":0,"px":1490,"py":629},{"arrow":"a14","pathway":"Nitrate assimilation (Niass)","t":1,"px":1499,"py":611},{"arrow":"a14","pathway":"Nitrate assimilation (Niass)","t":2,"px":1508,"py":629}
],
"species":[
{"name":"N₂O","px":735,"py":19},{"name":"N₂H₂","px":673,"py":107},{"name":"N₂","px":397,"py":281},{"name":"NO","px":883,"py":211},{"name":"NH₄⁺","px":508,"py":588},{"name":"NO₂⁻","px":1095,"py":592},{"name":"NO₃⁻","px":1504,"py":587},{"name":"NO₃⁻","px":1503,"py":827},{"name":"NH₂OH","px":767,"py":810},{"name":"Organic N","px":96,"py":595}
],
"letters":[{"name":"A","px":47,"py":46},{"name":"B","px":1416,"py":892},{"name":"C","px":46,"py":1030}]
},
"layer":[
{"data":{"values":[{"gene":"nosZ***","year":"y0","value":2.5871},{"gene":"nosZ***","year":"y1","value":2.53765},{"gene":"nosZ***","year":"y3","value":2.56906}]},
"encoding":{"x":{"field":"year","type":"nominal","axis":null,"scale":{"domain":["y0","y1","y3"],"range":[320.5,520],"padding":0}},"y":{"field":"gene","type":"nominal","axis":null,"scale":{"domain":["nosZ***"],"range":[72,96],"padding":0}}},
"layer":[
{"mark":{"type":"rect","stroke":"#c0a890","strokeWidth":1},"encoding":{"color":{"field":"value","type":"quantitative","legend":null,"scale":{"interpolate":"rgb","domain":[1.25,2.14,3.04],"range":["#0000ff","#ffffff","#f4352a"]}}}},
{"mark":{"type":"text","fontSize":11},"encoding":{"text":{"field":"value","type":"nominal"}}},
{"transform":[{"filter":"datum.year==='y3'"}],"mark":{"type":"text","align":"left","dx":37,"dy":-4,"fontSize":25,"color":"#d0702c"},"encoding":{"text":{"field":"gene","type":"nominal"}}},
{"mark":{"type":"tick","opacity":1,"orient":"horizontal","size":66.5,"thickness":6,"yOffset":-19},"encoding":{"fill":{"field":"year","type":"nominal","scale":{"domain":["y0","y1","y3"],"range":["#4a6b55","#f2302a","#1a78d2"]},"legend":{"orient":"none","legendX":1471,"legendY":14,"direction":"horizontal","columns":3,"title":null,"symbolType":"M-1,-0.14H1V0.14H-1Z","symbolSize":2600,"symbolStrokeWidth":0,"symbolOpacity":1,"labelFontSize":28,"labelFontWeight":"bold","labelColor":"#111","labelOffset":6,"columnPadding":14}}}}
]},
{"data":{"values":[{"gene":"norB","year":"y0","value":2.68809},{"gene":"norB","year":"y1","value":2.66754},{"gene":"norB","year":"y3","value":2.68734},{"gene":"norC**","year":"y0","value":2.16588},{"gene":"norC**","year":"y1","value":2.16335},{"gene":"norC**","year":"y3","value":2.09295}]},
"encoding":{"x":{"field":"year","type":"nominal","axis":null,"scale":{"domain":["y0","y1","y3"],"range":[857.6,1057],"padding":0}},"y":{"field":"gene","type":"nominal","axis":null,"scale":{"domain":["norB","norC**"],"range":[83,131],"padding":0}}},
"layer":[
{"mark":{"type":"rect","stroke":"#e0d8d0","strokeWidth":1},"encoding":{"color":{"field":"value","type":"quantitative","legend":null,"scale":{"interpolate":"rgb","domain":[1.25,2.14,3.04],"range":["#0000ff","#ffffff","#f4352a"]}}}},
{"mark":{"type":"text","fontSize":11},"encoding":{"text":{"field":"value","type":"nominal"}}},
{"transform":[{"filter":"datum.year==='y3'"}],"mark":{"type":"text","align":"left","dx":38,"dy":-2,"fontSize":25,"color":"#d0702c"},"encoding":{"text":{"field":"gene","type":"nominal"}}},
{"transform":[{"filter":"datum.gene==='norB'"}],"mark":{"type":"tick","opacity":1,"orient":"horizontal","size":66.5,"thickness":6,"yOffset":-19},"encoding":{"fill":{"field":"year","type":"nominal","scale":{"domain":["y0","y1","y3"],"range":["#4a6b55","#f2302a","#1a78d2"]},"legend":null}}}
]},
{"data":{"values":[{"gene":"nirK","year":"y0","value":2.85585},{"gene":"nirK","year":"y1","value":2.8945},{"gene":"nirK","year":"y3","value":2.87764},{"gene":"nirS***","year":"y0","value":2.14432},{"gene":"nirS***","year":"y1","value":2.25098},{"gene":"nirS***","year":"y3","value":2.12439}]},
"encoding":{"x":{"field":"year","type":"nominal","axis":null,"scale":{"domain":["y0","y1","y3"],"range":[1009,1208],"padding":0}},"y":{"field":"gene","type":"nominal","axis":null,"scale":{"domain":["nirK","nirS***"],"range":[344,393],"padding":0}}},
"layer":[
{"mark":{"type":"rect","stroke":"#e0d8d0","strokeWidth":1},"encoding":{"color":{"field":"value","type":"quantitative","legend":null,"scale":{"interpolate":"rgb","domain":[1.25,2.14,3.04],"range":["#0000ff","#ffffff","#f4352a"]}}}},
{"mark":{"type":"text","fontSize":11},"encoding":{"text":{"field":"value","type":"nominal"}}},
{"transform":[{"filter":"datum.year==='y3'"}],"mark":{"type":"text","align":"left","dx":40,"dy":-2,"fontSize":25,"color":"#d0702c"},"encoding":{"text":{"field":"gene","type":"nominal"}}},
{"transform":[{"filter":"datum.gene==='nirK'"}],"mark":{"type":"tick","opacity":1,"orient":"horizontal","size":66.5,"thickness":6,"yOffset":-17},"encoding":{"fill":{"field":"year","type":"nominal","scale":{"domain":["y0","y1","y3"],"range":["#4a6b55","#f2302a","#1a78d2"]},"legend":null}}}
]},
{"data":{"values":[{"gene":"narG/narZ/nxrA","year":"y0","value":3.01164},{"gene":"narG/narZ/nxrA","year":"y1","value":3.03001},{"gene":"narG/narZ/nxrA","year":"y3","value":3.03271},{"gene":"narH/narY/nxrB","year":"y0","value":2.6128},{"gene":"narH/narY/nxrB","year":"y1","value":2.63323},{"gene":"narH/narY/nxrB","year":"y3","value":2.6459},{"gene":"narI/narV","year":"y0","value":2.34238},{"gene":"narI/narV","year":"y1","value":2.37151},{"gene":"narI/narV","year":"y3","value":2.38564},{"gene":"napA","year":"y0","value":2.28137},{"gene":"napA","year":"y1","value":2.2884},{"gene":"napA","year":"y3","value":2.27207},{"gene":"napC","year":"y0","value":1.67476},{"gene":"napC","year":"y1","value":1.76115},{"gene":"napC","year":"y3","value":1.69212},{"gene":"napB","year":"y0","value":1.35756},{"gene":"napB","year":"y1","value":1.30342},{"gene":"napB","year":"y3","value":1.21516}]},
"encoding":{"x":{"field":"year","type":"nominal","axis":null,"scale":{"domain":["y0","y1","y3"],"range":[1132,1329],"padding":0}},"y":{"field":"gene","type":"nominal","axis":null,"scale":{"domain":["narG/narZ/nxrA","narH/narY/nxrB","narI/narV","napA","napC","napB"],"range":[413,566],"padding":0}}},
"layer":[
{"mark":{"type":"rect","stroke":"#c8b8a8","strokeWidth":1},"encoding":{"color":{"field":"value","type":"quantitative","scale":{"interpolate":"rgb","domain":[1.25,2.14,3.04],"range":["#0000ff","#ffffff","#f4352a"]},"legend":{"orient":"none","legendX":1415,"legendY":489,"title":"Abundance","titleFontSize":12.5,"titlePadding":3,"gradientLength":67,"gradientThickness":14,"labelFontSize":13,"labelOverlap":false,"labelExpr":"''+datum.value","values":[3,2.5,2,1.5],"gradientStrokeWidth":0}}}},
{"mark":{"type":"text","fontSize":11},"encoding":{"text":{"field":"value","type":"nominal"}}},
{"transform":[{"filter":"datum.year==='y3'"}],"mark":{"type":"text","align":"left","dx":40,"fontSize":25,"color":"#d0702c"},"encoding":{"text":{"field":"gene","type":"nominal"}}},
{"transform":[{"filter":"datum.gene==='narG/narZ/nxrA'"}],"mark":{"type":"tick","opacity":1,"orient":"horizontal","size":65.7,"thickness":6,"yOffset":-17},"encoding":{"fill":{"field":"year","type":"nominal","scale":{"domain":["y0","y1","y3"],"range":["#4a6b55","#f2302a","#1a78d2"]},"legend":null}}}
]},
{"data":{"values":[{"gene":"nifD","year":"y0","value":2.09842},{"gene":"nifD","year":"y1","value":2.15337},{"gene":"nifD","year":"y3","value":2.00107},{"gene":"nifK","year":"y0","value":2.07807},{"gene":"nifK","year":"y1","value":2.11649},{"gene":"nifK","year":"y3","value":2.00373},{"gene":"nifH","year":"y0","value":1.89824},{"gene":"nifH","year":"y1","value":1.92669},{"gene":"nifH","year":"y3","value":1.78884},{"gene":"vnfK***","year":"y0","value":-1.00243},{"gene":"vnfK***","year":"y1","value":0.27442},{"gene":"vnfK***","year":"y3","value":-0.66135}]},
"encoding":{"x":{"field":"year","type":"nominal","axis":null,"scale":{"domain":["y0","y1","y3"],"range":[108.5,308],"padding":0}},"y":{"field":"gene","type":"nominal","axis":null,"scale":{"domain":["nifD","nifK","nifH","vnfK***"],"range":[341,558],"padding":0}}},
"layer":[
{"mark":{"type":"rect","stroke":"#b8a890","strokeWidth":1},"encoding":{"color":{"field":"value","type":"quantitative","scale":{"interpolate":"rgb","domain":[-1,0.58,2.16],"range":["#0000ff","#ffffff","#f4352a"]},"legend":{"orient":"none","legendX":372,"legendY":431,"title":"Abundance","titleFontSize":12.5,"titlePadding":3,"gradientLength":67,"gradientThickness":13,"labelFontSize":13,"labelOverlap":false,"labelExpr":"''+datum.value","values":[2,1,0,-1],"gradientStrokeWidth":0}}}},
{"mark":{"type":"text","fontSize":9},"encoding":{"text":{"field":"value","type":"nominal"}}},
{"transform":[{"filter":"datum.year==='y3'"}],"mark":{"type":"text","align":"left","dx":40,"dy":-4,"fontSize":25,"color":"#8c8c78"},"encoding":{"text":{"field":"gene","type":"nominal"}}},
{"transform":[{"filter":"datum.gene==='nifD'"}],"mark":{"type":"tick","opacity":1,"orient":"horizontal","size":66.5,"thickness":6,"yOffset":-31},"encoding":{"fill":{"field":"year","type":"nominal","scale":{"domain":["y0","y1","y3"],"range":["#4a6b55","#f2302a","#1a78d2"]},"legend":null}}}
]},
{"data":{"values":[{"gene":"hzsC","year":"y0","value":0.6656},{"gene":"hzsC","year":"y1","value":0.67707},{"gene":"hzsC","year":"y3","value":0.6574},{"gene":"hzsA","year":"y0","value":0.44667},{"gene":"hzsA","year":"y1","value":0.46221},{"gene":"hzsA","year":"y3","value":0.32155},{"gene":"hzsB**","year":"y0","value":-0.6218},{"gene":"hzsB**","year":"y1","value":-0.02547},{"gene":"hzsB**","year":"y3","value":-1.2235}]},
"encoding":{"x":{"field":"year","type":"nominal","axis":null,"scale":{"domain":["y0","y1","y3"],"range":[454,609],"padding":0}},"y":{"field":"gene","type":"nominal","axis":null,"scale":{"domain":["hzsC","hzsA","hzsB**"],"range":[237,413],"padding":0}}},
"layer":[
{"mark":{"type":"rect","stroke":"#b8a890","strokeWidth":1},"encoding":{"color":{"field":"value","type":"quantitative","scale":{"interpolate":"rgb","domain":[-1.25,-0.29,0.68],"range":["#0000ff","#ffffff","#f4352a"]},"legend":{"orient":"none","legendX":676,"legendY":234,"title":"Abundance","titleFontSize":12.5,"titlePadding":3,"gradientLength":63,"gradientThickness":14,"labelFontSize":13,"labelOverlap":false,"labelExpr":"''+datum.value","values":[0.5,0,-0.5,-1],"gradientStrokeWidth":0}}}},
{"mark":{"type":"text","fontSize":7},"encoding":{"text":{"field":"value","type":"nominal"}}},
{"transform":[{"filter":"datum.year==='y3'"}],"mark":{"type":"text","align":"left","dx":30,"dy":-2,"fontSize":25,"color":"#35ade2"},"encoding":{"text":{"field":"gene","type":"nominal"}}},
{"transform":[{"filter":"datum.gene==='hzsC'"}],"mark":{"type":"tick","opacity":1,"orient":"horizontal","size":51.7,"thickness":5,"yOffset":-33},"encoding":{"fill":{"field":"year","type":"nominal","scale":{"domain":["y0","y1","y3"],"range":["#4a6b55","#f2302a","#1a78d2"]},"legend":null}}}
]},
{"data":{"values":[{"gene":"nrfA***","year":"y0","value":2.65022},{"gene":"nrfA***","year":"y1","value":2.6609},{"gene":"nrfA***","year":"y3","value":2.60448},{"gene":"nrfH***","year":"y0","value":2.24045},{"gene":"nrfH***","year":"y1","value":2.22703},{"gene":"nrfH***","year":"y3","value":2.13667},{"gene":"nirB***","year":"y0","value":2.02051},{"gene":"nirB***","year":"y1","value":2.03734},{"gene":"nirB***","year":"y3","value":2.21015},{"gene":"nirD***","year":"y0","value":1.2023},{"gene":"nirD***","year":"y1","value":1.05535},{"gene":"nirD***","year":"y3","value":1.45557}]},
"encoding":{"x":{"field":"year","type":"nominal","axis":null,"scale":{"domain":["y0","y1","y3"],"range":[705,903],"padding":0}},"y":{"field":"gene","type":"nominal","axis":null,"scale":{"domain":["nrfA***","nrfH***","nirB***","nirD***"],"range":[368,582],"padding":0}}},
"layer":[
{"mark":{"type":"rect","stroke":"#c8b8a8","strokeWidth":1},"encoding":{"color":{"field":"value","type":"quantitative","scale":{"interpolate":"rgb","domain":[1.05,1.86,2.66],"range":["#0000ff","#ffffff","#f4352a"]},"legend":{"orient":"none","legendX":632,"legendY":477,"title":"Abundance","titleFontSize":12.5,"titlePadding":3,"gradientLength":66,"gradientThickness":13,"labelFontSize":13,"labelOverlap":false,"labelExpr":"''+datum.value","values":[2.5,2,1.5,1],"gradientStrokeWidth":0}}}},
{"mark":{"type":"text","fontSize":9},"encoding":{"text":{"field":"value","type":"nominal"}}},
{"transform":[{"filter":"datum.year==='y3'"}],"mark":{"type":"text","align":"left","dx":39,"dy":-3,"fontSize":25,"color":"#46ad8c"},"encoding":{"text":{"field":"gene","type":"nominal"}}},
{"transform":[{"filter":"datum.gene==='nrfA***'"}],"mark":{"type":"tick","opacity":1,"orient":"horizontal","size":66,"thickness":5,"yOffset":-31},"encoding":{"fill":{"field":"year","type":"nominal","scale":{"domain":["y0","y1","y3"],"range":["#4a6b55","#f2302a","#1a78d2"]},"legend":null}}}
]},
{"data":{"values":[{"gene":"glnA/GLUL**","year":"y0","value":3.2784},{"gene":"glnA/GLUL**","year":"y1","value":3.3148},{"gene":"glnA/GLUL**","year":"y3","value":3.31903},{"gene":"gltB***","year":"y0","value":3.17867},{"gene":"gltB***","year":"y1","value":3.21827},{"gene":"gltB***","year":"y3","value":3.22944},{"gene":"gltD**","year":"y0","value":3.00678},{"gene":"gltD**","year":"y1","value":3.04095},{"gene":"gltD**","year":"y3","value":2.99626},{"gene":"GLUD1-2/gdhA*","year":"y0","value":2.80793},{"gene":"GLUD1-2/gdhA*","year":"y1","value":2.80475},{"gene":"GLUD1-2/gdhA*","year":"y3","value":2.80165},{"gene":"E1.4.1.4/gdhA***","year":"y0","value":2.5261},{"gene":"E1.4.1.4/gdhA***","year":"y1","value":2.55611},{"gene":"E1.4.1.4/gdhA***","year":"y3","value":2.47236},{"gene":"ureC","year":"y0","value":2.30488},{"gene":"ureC","year":"y1","value":2.34701},{"gene":"ureC","year":"y3","value":2.33786},{"gene":"ureB","year":"y0","value":1.50428},{"gene":"ureB","year":"y1","value":1.63713},{"gene":"ureB","year":"y3","value":1.54847},{"gene":"ureA**","year":"y0","value":1.43947},{"gene":"ureA**","year":"y1","value":1.64902},{"gene":"ureA**","year":"y3","value":1.43469}]},
"encoding":{"x":{"field":"year","type":"nominal","axis":null,"scale":{"domain":["y0","y1","y3"],"range":[70.5,287],"padding":0}},"y":{"field":"gene","type":"nominal","axis":null,"scale":{"domain":["glnA/GLUL**","gltB***","gltD**","GLUD1-2/gdhA*","E1.4.1.4/gdhA***","ureC","ureB","ureA**"],"range":[625,925],"padding":0}}},
"layer":[
{"mark":{"type":"rect","stroke":"#c0a890","strokeWidth":1},"encoding":{"color":{"field":"value","type":"quantitative","scale":{"interpolate":"rgb","domain":[1.43,2.37,3.32],"range":["#0000ff","#ffffff","#f4352a"]},"legend":{"orient":"none","legendX":378,"legendY":822,"title":"Abundance","titleFontSize":13,"titlePadding":3,"gradientLength":72,"gradientThickness":14,"labelFontSize":14,"labelOverlap":false,"labelExpr":"''+datum.value","values":[3,2.5,2,1.5],"gradientStrokeWidth":0}}}},
{"mark":{"type":"text","fontSize":12},"encoding":{"text":{"field":"value","type":"nominal"}}},
{"transform":[{"filter":"datum.year==='y3'"}],"mark":{"type":"text","align":"left","dx":42,"fontSize":25,"color":"#333333"},"encoding":{"text":{"field":"gene","type":"nominal"}}},
{"transform":[{"filter":"datum.gene==='glnA/GLUL**'"}],"mark":{"type":"tick","opacity":1,"orient":"horizontal","size":72.2,"thickness":6,"yOffset":-24},"encoding":{"fill":{"field":"year","type":"nominal","scale":{"domain":["y0","y1","y3"],"range":["#4a6b55","#f2302a","#1a78d2"]},"legend":null}}}
]},
{"data":{"values":[{"gene":"pmoC-amoC***","year":"y0","value":1.50154},{"gene":"pmoC-amoC***","year":"y1","value":1.59835},{"gene":"pmoC-amoC***","year":"y3","value":1.66557},{"gene":"pmoB-amoB","year":"y0","value":1.433},{"gene":"pmoB-amoB","year":"y1","value":1.53081},{"gene":"pmoB-amoB","year":"y3","value":1.46605},{"gene":"pmoA-amoA","year":"y0","value":1.10668},{"gene":"pmoA-amoA","year":"y1","value":1.22896},{"gene":"pmoA-amoA","year":"y3","value":1.18162}]},
"encoding":{"x":{"field":"year","type":"nominal","axis":null,"scale":{"domain":["y0","y1","y3"],"range":[486.6,684],"padding":0}},"y":{"field":"gene","type":"nominal","axis":null,"scale":{"domain":["pmoC-amoC***","pmoB-amoB","pmoA-amoA"],"range":[813,997],"padding":0}}},
"layer":[
{"mark":{"type":"rect","stroke":"#a8a8c8","strokeWidth":1},"encoding":{"color":{"field":"value","type":"quantitative","scale":{"interpolate":"rgb","domain":[1.1,1.66,2.22],"range":["#0000ff","#ffffff","#f4352a"]},"legend":{"orient":"none","legendX":838,"legendY":889,"title":"Abundance","titleFontSize":12.5,"titlePadding":3,"gradientLength":63,"gradientThickness":12,"labelFontSize":13,"labelOverlap":false,"labelExpr":"''+datum.value","values":[2.2,2,1.8,1.6,1.4,1.2],"gradientStrokeWidth":0}}}},
{"mark":{"type":"text","fontSize":9.5},"encoding":{"text":{"field":"value","type":"nominal"}}},
{"transform":[{"filter":"datum.year==='y3'"}],"mark":{"type":"text","align":"left","dx":41,"fontSize":25,"color":"#ee1111"},"encoding":{"text":{"field":"gene","type":"nominal"}}},
{"transform":[{"filter":"datum.gene==='pmoC-amoC***'"}],"mark":{"type":"tick","opacity":1,"orient":"horizontal","size":65.8,"thickness":5,"yOffset":-34},"encoding":{"fill":{"field":"year","type":"nominal","scale":{"domain":["y0","y1","y3"],"range":["#4a6b55","#f2302a","#1a78d2"]},"legend":null}}}
]},
{"data":{"values":[{"gene":"nirA***","year":"y0","value":2.05483},{"gene":"nirA***","year":"y1","value":2.09707},{"gene":"nirA***","year":"y3","value":2.08248},{"gene":"NIT-6","year":"y0","value":0.1875},{"gene":"NIT-6","year":"y1","value":-0.24958},{"gene":"NIT-6","year":"y3","value":-0.5432}]},
"encoding":{"x":{"field":"year","type":"nominal","axis":null,"scale":{"domain":["y0","y1","y3"],"range":[608.7,807.6],"padding":0}},"y":{"field":"gene","type":"nominal","axis":null,"scale":{"domain":["nirA***","NIT-6"],"range":[616,697],"padding":0}}},
"layer":[
{"mark":{"type":"rect","stroke":"#a8a0a0","strokeWidth":1},"encoding":{"color":{"field":"value","type":"quantitative","scale":{"interpolate":"rgb","domain":[-1,-0.55,1.05,2.66,3],"range":["#0000ff","#0000ff","#ffffff","#f4352a","#f4352a"]},"legend":{"orient":"none","legendX":903,"legendY":614,"title":"Abundance","titleFontSize":12.5,"titlePadding":3,"gradientLength":62,"gradientThickness":12,"labelFontSize":13,"labelOverlap":false,"labelExpr":"''+datum.value","values":[3,2,1,0,-1],"gradientStrokeWidth":0}}}},
{"mark":{"type":"text","fontSize":10},"encoding":{"text":{"field":"value","type":"nominal"}}},
{"transform":[{"filter":"datum.year==='y3'"}],"mark":{"type":"text","align":"left","dx":39,"fontSize":25,"color":"#d8c268"},"encoding":{"text":{"field":"gene","type":"nominal"}}},
{"transform":[{"filter":"datum.gene==='nirA***'"}],"mark":{"type":"tick","opacity":1,"orient":"horizontal","size":66.3,"thickness":5,"yOffset":-24},"encoding":{"fill":{"field":"year","type":"nominal","scale":{"domain":["y0","y1","y3"],"range":["#4a6b55","#f2302a","#1a78d2"]},"legend":null}}}
]},
{"data":{"values":[{"gene":"hao***","year":"y0","value":2.21069},{"gene":"hao***","year":"y1","value":2.21178},{"gene":"hao***","year":"y3","value":2.13679}]},
"encoding":{"x":{"field":"year","type":"nominal","axis":null,"scale":{"domain":["y0","y1","y3"],"range":[865.8,1063],"padding":0}},"y":{"field":"gene","type":"nominal","axis":null,"scale":{"domain":["hao***"],"range":[787,826],"padding":0}}},
"layer":[
{"mark":{"type":"rect","stroke":"#c0a080","strokeWidth":1},"encoding":{"color":{"field":"value","type":"quantitative","legend":null,"scale":{"interpolate":"rgb","domain":[1.1,1.66,2.22],"range":["#0000ff","#ffffff","#f4352a"]}}}},
{"mark":{"type":"text","fontSize":9.5,"dy":10},"encoding":{"text":{"field":"value","type":"nominal"}}},
{"transform":[{"filter":"datum.year==='y3'"}],"mark":{"type":"text","align":"left","dx":40,"fontSize":25,"color":"#ee1111"},"encoding":{"text":{"field":"gene","type":"nominal"}}},
{"mark":{"type":"tick","opacity":1,"orient":"horizontal","size":65.7,"thickness":5,"yOffset":-24},"encoding":{"fill":{"field":"year","type":"nominal","scale":{"domain":["y0","y1","y3"],"range":["#4a6b55","#f2302a","#1a78d2"]},"legend":null}}}
]},
{"data":{"values":[{"gene":"nasC/nasA**","year":"y0","value":2.54943},{"gene":"nasC/nasA**","year":"y1","value":2.53515},{"gene":"nasC/nasA**","year":"y3","value":2.66178},{"gene":"narB**","year":"y0","value":1.91123},{"gene":"narB**","year":"y1","value":1.82353},{"gene":"narB**","year":"y3","value":1.94186},{"gene":"nasB***","year":"y0","value":1.43109},{"gene":"nasB***","year":"y1","value":1.4559},{"gene":"nasB***","year":"y3","value":1.72168},{"gene":"NR***","year":"y0","value":1.05574},{"gene":"NR***","year":"y1","value":1.13968},{"gene":"NR***","year":"y3","value":0.94821}]},
"encoding":{"x":{"field":"year","type":"nominal","axis":null,"scale":{"domain":["y0","y1","y3"],"range":[1152.5,1351],"padding":0}},"y":{"field":"gene","type":"nominal","axis":null,"scale":{"domain":["nasC/nasA**","narB**","nasB***","NR***"],"range":[617,777],"padding":0}}},
"layer":[
{"mark":{"type":"rect","stroke":"#d8c8b8","strokeWidth":1},"encoding":{"color":{"field":"value","type":"quantitative","scale":{"interpolate":"rgb","domain":[-1,-0.55,1.05,2.66,3],"range":["#0000ff","#0000ff","#ffffff","#f4352a","#f4352a"]},"legend":{"orient":"none","legendX":1094,"legendY":693,"title":"Abundance","titleFontSize":12.5,"titlePadding":3,"gradientLength":63,"gradientThickness":12,"labelFontSize":13,"labelOverlap":false,"labelExpr":"''+datum.value","values":[3,2,1,0,-1],"gradientStrokeWidth":0}}}},
{"mark":{"type":"text","fontSize":9.5},"encoding":{"text":{"field":"value","type":"nominal"}}},
{"transform":[{"filter":"datum.year==='y3'"}],"mark":{"type":"text","align":"left","dx":39,"dy":-3,"fontSize":25,"color":"#d8c268"},"encoding":{"text":{"field":"gene","type":"nominal"}}},
{"transform":[{"filter":"datum.gene==='nasC/nasA**'"}],"mark":{"type":"tick","opacity":1,"orient":"horizontal","size":66.2,"thickness":6,"yOffset":-25},"encoding":{"fill":{"field":"year","type":"nominal","scale":{"domain":["y0","y1","y3"],"range":["#4a6b55","#f2302a","#1a78d2"]},"legend":null}}}
]},
{"data":{"values":[{"gene":"NRT2/narK/nrtP/nasA","year":"y0","value":2.72332},{"gene":"NRT2/narK/nrtP/nasA","year":"y1","value":2.71836},{"gene":"NRT2/narK/nrtP/nasA","year":"y3","value":2.7958},{"gene":"nrtA/nasF/cynA","year":"y0","value":2.14216},{"gene":"nrtA/nasF/cynA","year":"y1","value":2.15791},{"gene":"nrtA/nasF/cynA","year":"y3","value":2.21303},{"gene":"nrtB/nasE/cynB*","year":"y0","value":1.95291},{"gene":"nrtB/nasE/cynB*","year":"y1","value":1.97726},{"gene":"nrtB/nasE/cynB*","year":"y3","value":1.97867},{"gene":"nrtC/nasD","year":"y0","value":1.89945},{"gene":"nrtC/nasD","year":"y1","value":1.86125},{"gene":"nrtC/nasD","year":"y3","value":1.97407},{"gene":"nrtD/cynD*","year":"y0","value":1.01548},{"gene":"nrtD/cynD*","year":"y1","value":0.88297},{"gene":"nrtD/cynD*","year":"y3","value":1.15935}]},
"encoding":{"x":{"field":"year","type":"nominal","axis":null,"scale":{"domain":["y0","y1","y3"],"range":[1542,1740],"padding":0}},"y":{"field":"gene","type":"nominal","axis":null,"scale":{"domain":["NRT2/narK/nrtP/nasA","nrtA/nasF/cynA","nrtB/nasE/cynB*","nrtC/nasD","nrtD/cynD*"],"range":[510,843],"padding":0}}},
"layer":[
{"mark":{"type":"rect","stroke":"#c8c0b8","strokeWidth":1},"encoding":{"color":{"field":"value","type":"quantitative","scale":{"interpolate":"rgb","domain":[0.88,1.84,2.8],"range":["#0000ff","#ffffff","#f4352a"]},"legend":{"orient":"none","legendX":1866,"legendY":705,"title":"Abundance","titleFontSize":17,"titlePadding":3,"gradientLength":93,"gradientThickness":20,"labelFontSize":19,"labelOverlap":false,"labelExpr":"''+datum.value","values":[2.5,2,1.5,1],"gradientStrokeWidth":0}}}},
{"mark":{"type":"text","fontSize":13},"encoding":{"text":{"field":"value","type":"nominal"}}},
{"transform":[{"filter":"datum.year==='y3'"}],"mark":{"type":"text","align":"left","dx":40,"fontSize":25,"color":"#7468bc"},"encoding":{"text":{"field":"gene","type":"nominal"}}},
{"transform":[{"filter":"datum.gene==='NRT2/narK/nrtP/nasA'"}],"mark":{"type":"tick","opacity":1,"orient":"horizontal","size":66,"thickness":7,"yOffset":-40},"encoding":{"fill":{"field":"year","type":"nominal","scale":{"domain":["y0","y1","y3"],"range":["#4a6b55","#f2302a","#1a78d2"]},"legend":null}}}
]},
{"encoding":{"x":{"field":"px","type":"quantitative","axis":null,"scale":{"domain":[0,1980],"range":[0,1980]}},"y":{"field":"py","type":"quantitative","axis":null,"scale":{"domain":[0,1859],"range":[0,1859]}}},
"layer":[
{"data":{"name":"arrows"},"mark":{"type":"line","strokeWidth":3.5},"encoding":{"detail":{"field":"arrow","type":"nominal"},"order":{"field":"t","type":"quantitative"},"color":{"field":"pathway","type":"nominal","scale":{"domain":["Organic N metabolism (OrgN)","Nitrification (Nitrif)","Dentrification (Den)","Assimilatory nitrate reduction (ANRA)","Dissimilatory nitrate reduction (DNRA)","Nitrogen fixation (Nifix)","Anammox (Anam)","Nitrate assimilation (Niass)"],"range":["#000000","#f01818","#f58a2a","#fff020","#45b08e","#90b89c","#38aee6","#6f5cc0"]},"legend":{"orient":"none","legendX":1471,"legendY":64,"title":null,"symbolType":"M-1,0H1M0.45,-0.3L1,0L0.45,0.3","symbolSize":1156,"symbolStrokeWidth":3,"symbolFillColor":"transparent","labelFontSize":28,"labelLimit":700,"labelOffset":9,"labelColor":"#111","rowPadding":11.4}}}},
{"data":{"name":"dashedArrows"},"mark":{"type":"line","strokeWidth":3.5,"strokeDash":[13,10]},"encoding":{"detail":{"field":"arrow","type":"nominal"},"order":{"field":"t","type":"quantitative"},"color":{"field":"pathway","type":"nominal","legend":null}}},
{"data":{"name":"heads"},"mark":{"type":"line","strokeWidth":3.5},"encoding":{"detail":{"field":"arrow","type":"nominal"},"order":{"field":"t","type":"quantitative"},"color":{"field":"pathway","type":"nominal","legend":null}}},
{"data":{"name":"species"},"mark":{"type":"text","fontSize":31,"fontWeight":"bold","color":"#000"},"encoding":{"text":{"field":"name","type":"nominal"}}},
{"data":{"name":"letters"},"mark":{"type":"text","fontSize":60,"color":"#000"},"encoding":{"text":{"field":"name","type":"nominal"}}}
]},
{"data":{"values":[
{"row":"SOM","col":"TN","r":0.8,"magnitude":0.8,"sig":"***"},{"row":"SOM","col":"TP","r":0.78,"magnitude":0.78,"sig":"***"},{"row":"SOM","col":"TK","r":-0.4,"magnitude":0.56,"sig":""},{"row":"SOM","col":"AN","r":0.72,"magnitude":0.78,"sig":"***"},{"row":"SOM","col":"AP","r":0.5,"magnitude":0.7,"sig":"***"},{"row":"SOM","col":"AK","r":0.85,"magnitude":0.8,"sig":"***"},{"row":"SOM","col":"NO3-","r":-0.35,"magnitude":0.53,"sig":""},{"row":"SOM","col":"NH4+","r":0.55,"magnitude":0.74,"sig":"***"},{"row":"SOM","col":"C/N","r":0.6,"magnitude":0.76,"sig":"***"},
{"row":"TN","col":"TP","r":1,"magnitude":0.86,"sig":"***"},{"row":"TN","col":"TK","r":-0.1,"magnitude":0.43,"sig":""},{"row":"TN","col":"AN","r":0.98,"magnitude":0.84,"sig":"***"},{"row":"TN","col":"AP","r":0.78,"magnitude":0.78,"sig":"***"},{"row":"TN","col":"AK","r":0.95,"magnitude":0.81,"sig":"***"},{"row":"TN","col":"NO3-","r":-0.55,"magnitude":0.63,"sig":"*"},{"row":"TN","col":"NH4+","r":0.78,"magnitude":0.78,"sig":"***"},{"row":"TN","col":"C/N","r":0.04,"magnitude":0.52,"sig":""},
{"row":"TP","col":"TK","r":-0.26,"magnitude":0.53,"sig":""},{"row":"TP","col":"AN","r":1,"magnitude":0.85,"sig":"***"},{"row":"TP","col":"AP","r":0.8,"magnitude":0.78,"sig":"***"},{"row":"TP","col":"AK","r":0.82,"magnitude":0.81,"sig":"***"},{"row":"TP","col":"NO3-","r":-0.48,"magnitude":0.6,"sig":""},{"row":"TP","col":"NH4+","r":0.75,"magnitude":0.78,"sig":"***"},{"row":"TP","col":"C/N","r":0.13,"magnitude":0.54,"sig":""},
{"row":"TK","col":"AN","r":-0.3,"magnitude":0.54,"sig":""},{"row":"TK","col":"AP","r":-0.1,"magnitude":0.45,"sig":""},{"row":"TK","col":"AK","r":-0.04,"magnitude":0.46,"sig":""},{"row":"TK","col":"NO3-","r":0.08,"magnitude":0.5,"sig":""},{"row":"TK","col":"NH4+","r":-0.52,"magnitude":0.61,"sig":"*"},{"row":"TK","col":"C/N","r":-0.6,"magnitude":0.65,"sig":"*"},
{"row":"AN","col":"AP","r":0.93,"magnitude":0.81,"sig":"***"},{"row":"AN","col":"AK","r":0.85,"magnitude":0.79,"sig":"***"},{"row":"AN","col":"NO3-","r":-0.38,"magnitude":0.56,"sig":""},{"row":"AN","col":"NH4+","r":0.82,"magnitude":0.79,"sig":"***"},{"row":"AN","col":"C/N","r":0.02,"magnitude":0.49,"sig":""},
{"row":"AP","col":"AK","r":0.88,"magnitude":0.8,"sig":"***"},{"row":"AP","col":"NO3-","r":-0.12,"magnitude":0.45,"sig":""},{"row":"AP","col":"NH4+","r":0.65,"magnitude":0.76,"sig":"***"},{"row":"AP","col":"C/N","r":-0.12,"magnitude":0.44,"sig":""},
{"row":"AK","col":"NO3-","r":-0.15,"magnitude":0.46,"sig":""},{"row":"AK","col":"NH4+","r":0.65,"magnitude":0.75,"sig":"***"},{"row":"AK","col":"C/N","r":0.27,"magnitude":0.6,"sig":""},
{"row":"NO3-","col":"NH4+","r":-0.6,"magnitude":0.68,"sig":"**"},{"row":"NO3-","col":"C/N","r":-0.2,"magnitude":0.5,"sig":""},
{"row":"NH4+","col":"C/N","r":0.2,"magnitude":0,"sig":""}
]},
"encoding":{"x":{"field":"col","type":"nominal","scale":{"domain":["SOM","TN","TP","TK","AN","AP","AK","NO3-","NH4+","C/N"],"range":[312,1074],"padding":0},"axis":{"orient":"top","offset":-1097,"title":null,"domain":false,"ticks":false,"grid":false,"labelAngle":-42,"labelAlign":"left","labelBaseline":"middle","labelFontSize":36,"labelColor":"#222","labelPadding":20,"labelOffset":-10}},
"y":{"field":"row","type":"nominal","scale":{"domain":["SOM","TN","TP","TK","AN","AP","AK","NO3-","NH4+","C/N"],"range":[1100,1841],"padding":0},"axis":{"orient":"right","offset":-906,"title":null,"domain":false,"ticks":false,"grid":false,"labelFontSize":36,"labelColor":"#222","labelPadding":39,"labelOffset":1}}},
"layer":[
{"mark":{"type":"rect","fill":"white","stroke":"#c4c4c4","strokeWidth":2}},
{"mark":{"type":"square","opacity":1},"encoding":{"color":{"field":"r","type":"quantitative","scale":{"interpolate":"rgb","domain":[-0.6,0.2,1],"range":["#0000ff","#ffffff","#ff0000"]},"legend":{"orient":"none","legendX":1271,"legendY":1591,"title":"Correlation","titleFontSize":31,"titlePadding":8,"gradientLength":201,"gradientThickness":40,"labelFontSize":29,"labelOffset":8,"labelOverlap":false,"labelExpr":"''+datum.value","labelColor":"#222","values":[1,0.5,0,-0.5],"gradientStrokeWidth":0,"titleLimit":300}},"size":{"field":"magnitude","type":"quantitative","legend":null,"scale":{"type":"pow","exponent":2,"domain":[0,1],"range":[0,6400]}}}},
{"mark":{"type":"text","fontSize":20,"fontWeight":"bold","dy":5,"color":"#000"},"encoding":{"text":{"field":"sig","type":"nominal"}}}
]},
{"encoding":{"x":{"field":"px","type":"quantitative","axis":null,"scale":{"domain":[0,1980],"range":[0,1980]}},"y":{"field":"py","type":"quantitative","axis":null,"scale":{"domain":[0,1859],"range":[0,1859]}}},
"layer":[
{"data":{"name":"edgePath"},"transform":[{"lookup":"edge","from":{"data":{"name":"edges"},"key":"edge","fields":["p","rel","r"]}}],"mark":{"type":"line","interpolate":"natural"},"encoding":{"detail":{"field":"edge","type":"nominal"},"order":{"field":"t","type":"quantitative"},
"color":{"field":"p","type":"nominal","scale":{"domain":["<0.01","0.01-0.05",">=0.05"],"range":["#ecdf8a","#1e8fd2","#808080"]},"legend":{"orient":"none","legendX":1246,"legendY":1060,"title":"Mantel's p","titleFontSize":32,"titlePadding":6,"symbolType":"stroke","symbolSize":1300,"symbolStrokeWidth":3,"labelFontSize":30,"labelColor":"#222","labelOffset":6,"rowPadding":12}},
"strokeDash":{"field":"rel","type":"nominal","scale":{"domain":["positive","negative"],"range":[[1,0],[9,6]]},"legend":{"orient":"none","legendX":1243,"legendY":1254,"title":"Relationship","titleFontSize":32,"titlePadding":6,"symbolType":"stroke","symbolSize":1300,"symbolStrokeWidth":2,"symbolStrokeColor":"#d8dde4","labelFontSize":30,"labelColor":"#222","labelOffset":6,"rowPadding":12}},
"strokeWidth":{"field":"r","type":"ordinal","scale":{"domain":["<0.4","0.4-0.6",">=0.6"],"range":[3.6,5,7]},"legend":{"orient":"none","legendX":1262,"legendY":1397,"title":"Mantel's r","titleFontSize":32,"titlePadding":4,"symbolType":"stroke","symbolSize":1300,"symbolStrokeColor":"#c8ccc8","labelFontSize":30,"labelColor":"#222","labelOffset":6,"rowPadding":12}}}},
{"data":{"name":"nodes"},"mark":{"type":"point","filled":true,"fill":"#f01010","stroke":"#2030e0","strokeWidth":2,"size":150,"opacity":1}},
{"data":{"name":"nodes"},"transform":[{"filter":"datum.kind==='function'"}],"mark":{"type":"text","align":"right","dx":-21,"fontSize":36,"color":"#222"},"encoding":{"text":{"field":"node","type":"nominal"}}}
]},
{"data":{"values":[{"year":"y0","min":0.1683,"q1":0.173,"median":0.1794,"q3":0.1841,"max":0.1963,"letter":"a","letter_at":0.2027},{"year":"y1","min":0.1497,"q1":0.1644,"median":0.1767,"q3":0.1864,"max":0.2066,"letter":"a","letter_at":0.2129},{"year":"y3","min":0.1631,"q1":0.1691,"median":0.1737,"q3":0.1808,"max":0.1875,"letter":"a","letter_at":0.1939}]},
"encoding":{"x":{"field":"year","type":"nominal","scale":{"domain":["y0","y1","y3"],"range":[1547,1971],"padding":0},"axis":{"orient":"bottom","offset":-684.3,"title":null,"labels":false,"tickSize":6,"tickWidth":2,"tickColor":"#333","domainColor":"#333","domainWidth":2,"grid":false}}},
"layer":[
{"mark":{"type":"rule","color":"#222","strokeWidth":2},"encoding":{"y":{"field":"min","type":"quantitative","scale":{"domain":[0.14,0.22],"range":[1174.7,889]},"axis":{"orient":"left","offset":-1547,"title":"Nitrogen flow allocation index","titleFontSize":23,"titleFontWeight":"normal","titlePadding":11,"values":[0.14,0.16,0.18,0.2,0.22],"format":".2f","labelFontSize":19,"labelColor":"#222","tickSize":6,"tickWidth":2,"tickColor":"#333","domainColor":"#333","domainWidth":2,"grid":false}},"y2":{"field":"max"}}},
{"mark":{"type":"bar","width":94,"fill":"white","stroke":"#222","strokeWidth":2},"encoding":{"y":{"field":"q1","type":"quantitative"},"y2":{"field":"q3"}}},
{"mark":{"type":"tick","opacity":1,"orient":"horizontal","size":94,"thickness":2,"color":"#222"},"encoding":{"y":{"field":"median","type":"quantitative"}}},
{"mark":{"type":"tick","opacity":1,"orient":"horizontal","size":47,"thickness":2,"color":"#222"},"encoding":{"y":{"field":"min","type":"quantitative"}}},
{"mark":{"type":"tick","opacity":1,"orient":"horizontal","size":47,"thickness":2,"color":"#222"},"encoding":{"y":{"field":"max","type":"quantitative"}}},
{"mark":{"type":"text","fontSize":20,"color":"#222"},"encoding":{"y":{"field":"letter_at","type":"quantitative"},"text":{"field":"letter","type":"nominal"}}}
]},
{"data":{"values":[{"year":"y0","min":0.42,"q1":0.42,"median":0.44,"q3":0.47,"max":0.49,"letter":"a","letter_at":0.539},{"year":"y1","min":0.25,"q1":0.301,"median":0.331,"q3":0.346,"max":0.352,"letter":"c","letter_at":0.404},{"year":"y3","min":0.392,"q1":0.395,"median":0.411,"q3":0.428,"max":0.442,"letter":"b","letter_at":0.497}]},
"encoding":{"x":{"field":"year","type":"nominal","scale":{"domain":["y0","y1","y3"],"range":[1545,1971],"padding":0},"axis":{"orient":"bottom","offset":-377,"title":null,"labels":false,"tickSize":6,"tickWidth":2,"tickColor":"#333","domainColor":"#333","domainWidth":2,"grid":false}}},
"layer":[
{"mark":{"type":"rule","color":"#222","strokeWidth":2},"encoding":{"y":{"field":"min","type":"quantitative","scale":{"domain":[0,0.6],"range":[1482,1196]},"axis":{"orient":"left","offset":-1545,"title":"N₂O sink to source ratio","titleFontSize":23,"titleFontWeight":"normal","titlePadding":17,"values":[0,0.2,0.4,0.6],"format":".1f","labelFontSize":19,"labelColor":"#222","tickSize":6,"tickWidth":2,"tickColor":"#333","domainColor":"#333","domainWidth":2,"grid":false}},"y2":{"field":"max"}}},
{"mark":{"type":"bar","width":95,"fill":"white","stroke":"#222","strokeWidth":2},"encoding":{"y":{"field":"q1","type":"quantitative"},"y2":{"field":"q3"}}},
{"mark":{"type":"tick","opacity":1,"orient":"horizontal","size":95,"thickness":2,"color":"#222"},"encoding":{"y":{"field":"median","type":"quantitative"}}},
{"mark":{"type":"tick","opacity":1,"orient":"horizontal","size":47,"thickness":2,"color":"#222"},"encoding":{"y":{"field":"min","type":"quantitative"}}},
{"mark":{"type":"tick","opacity":1,"orient":"horizontal","size":47,"thickness":2,"color":"#222"},"encoding":{"y":{"field":"max","type":"quantitative"}}},
{"mark":{"type":"text","fontSize":20,"color":"#222"},"encoding":{"y":{"field":"letter_at","type":"quantitative"},"text":{"field":"letter","type":"nominal"}}}
]},
{"data":{"values":[{"year":"y0","min":0.575,"q1":0.592,"median":0.614,"q3":0.628,"max":0.687,"letter":"a","letter_at":0.719},{"year":"y1","min":0.478,"q1":0.529,"median":0.545,"q3":0.562,"max":0.61,"letter":"b","letter_at":0.641},{"year":"y3","min":0.539,"q1":0.599,"median":0.625,"q3":0.633,"max":0.69,"letter":"a","letter_at":0.721}]},
"encoding":{"x":{"field":"year","type":"nominal","scale":{"domain":["y0","y1","y3"],"range":[1548,1966],"padding":0},"axis":{"orient":"bottom","offset":-61,"title":null,"labelFontSize":20,"labelAngle":0,"labelColor":"#222","labelPadding":6,"tickSize":6,"tickWidth":2,"tickColor":"#333","domainColor":"#333","domainWidth":2,"grid":false}}},
"layer":[
{"mark":{"type":"rule","color":"#222","strokeWidth":2},"encoding":{"y":{"field":"min","type":"quantitative","scale":{"domain":[0.4,0.8],"range":[1798,1509]},"axis":{"orient":"left","offset":-1548,"title":"N₂O reduction potential ratio","titleFontSize":23,"titleFontWeight":"normal","titlePadding":17,"values":[0.4,0.5,0.6,0.7,0.8],"format":".1f","labelFontSize":19,"labelColor":"#222","tickSize":6,"tickWidth":2,"tickColor":"#333","domainColor":"#333","domainWidth":2,"grid":false}},"y2":{"field":"max"}}},
{"mark":{"type":"bar","width":94,"fill":"white","stroke":"#222","strokeWidth":2},"encoding":{"y":{"field":"q1","type":"quantitative"},"y2":{"field":"q3"}}},
{"mark":{"type":"tick","opacity":1,"orient":"horizontal","size":94,"thickness":2,"color":"#222"},"encoding":{"y":{"field":"median","type":"quantitative"}}},
{"mark":{"type":"tick","opacity":1,"orient":"horizontal","size":47,"thickness":2,"color":"#222"},"encoding":{"y":{"field":"min","type":"quantitative"}}},
{"mark":{"type":"tick","opacity":1,"orient":"horizontal","size":47,"thickness":2,"color":"#222"},"encoding":{"y":{"field":"max","type":"quantitative"}}},
{"mark":{"type":"text","fontSize":20,"color":"#222"},"encoding":{"y":{"field":"letter_at","type":"quantitative"},"text":{"field":"letter","type":"nominal"}}}
]}
]}
